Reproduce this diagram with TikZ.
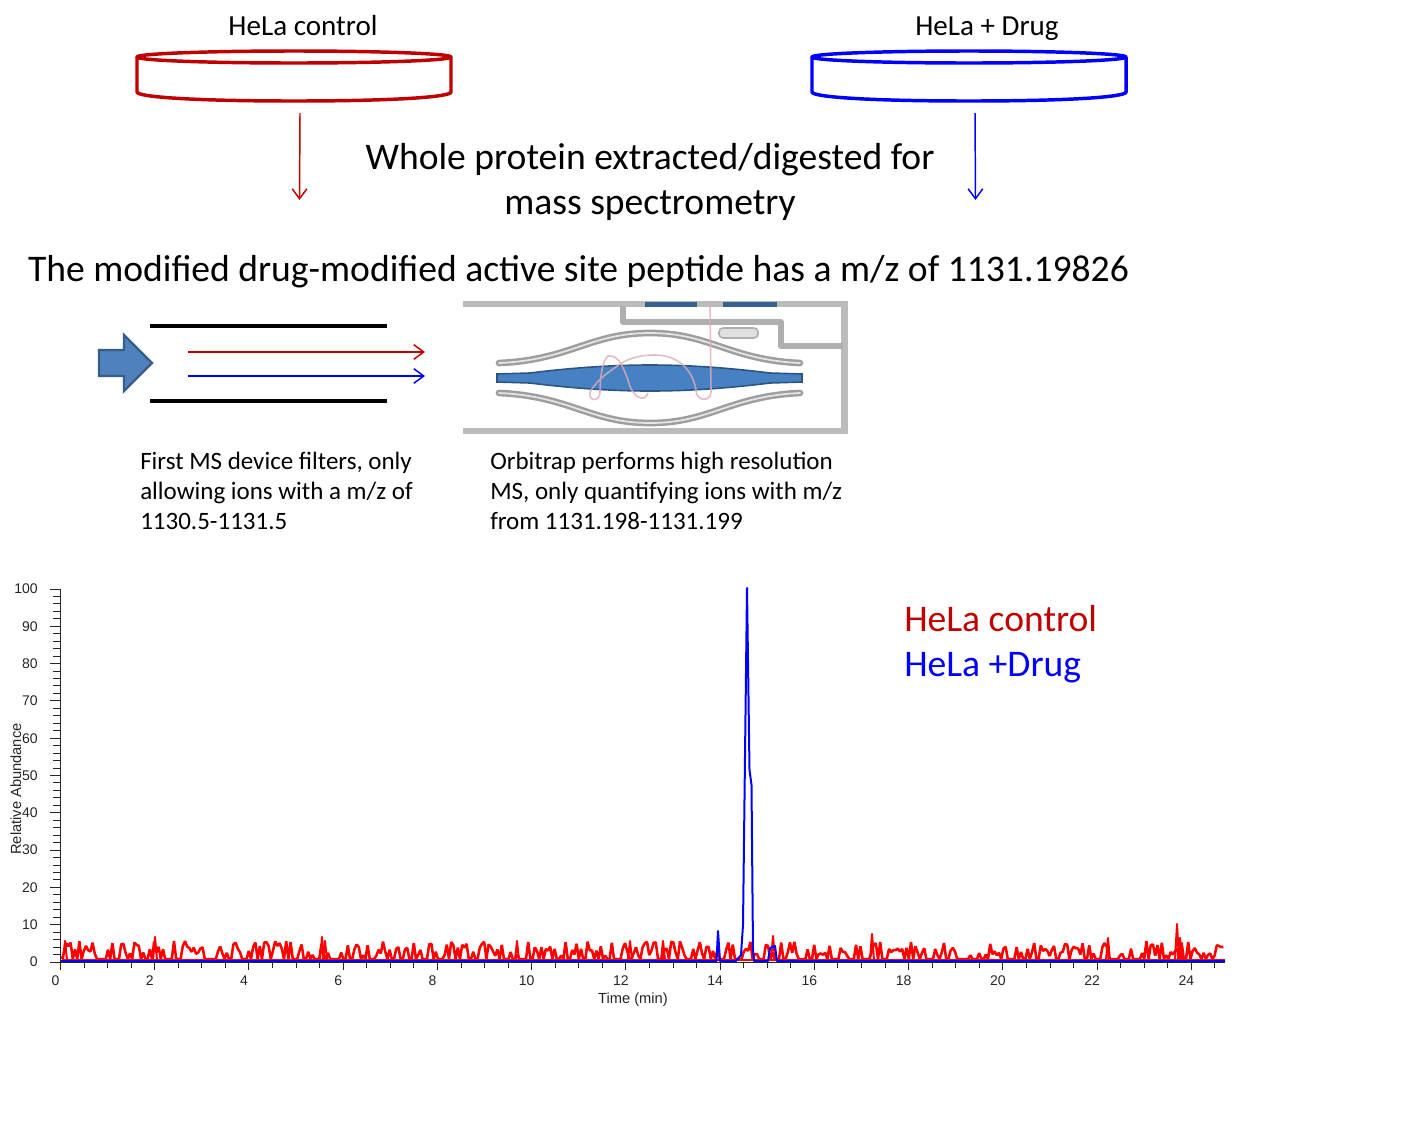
\documentclass[tikz,border=0pt]{standalone}
\usepackage{fontspec}
\setmainfont{Carlito}
\newfontfamily\chartfont{Liberation Sans}
\usetikzlibrary{arrows.meta}
\definecolor{dishred}{RGB}{192,0,0}
\definecolor{dishblue}{RGB}{0,0,255}
\definecolor{arrowfill}{RGB}{79,129,189}
\definecolor{arrowline}{RGB}{56,93,138}
\definecolor{trapblue}{RGB}{70,130,195}
\definecolor{trapline}{RGB}{45,85,130}
\definecolor{trapgrey}{RGB}{175,175,175}
\definecolor{trappink}{RGB}{225,170,180}
\tikzset{
	dishline/.style={line width=2.6pt,line join=round},
	thinarrow/.style={line width=1.1pt,-{Straight Barb[length=7.5pt,width=11pt,line width=1.1pt]}},
	plate/.style={line width=3pt,black},
	headtext/.style={font=\fontsize{28.2}{33.75}\selectfont,align=center},
	dishtext/.style={font=\fontsize{21.8}{26}\selectfont,anchor=base},
	smalltext/.style={font=\fontsize{18.75}{22.5}\selectfont,align=left,anchor=west,inner sep=0pt},
	legendtext/.style={font=\fontsize{28.2}{32}\selectfont,anchor=base west,inner sep=0pt},
	charttext/.style={font=\chartfont\fontsize{10.5}{12}\selectfont,text=black!85,inner sep=0pt},
	charttitle/.style={font=\chartfont\fontsize{11}{12}\selectfont,text=black!85,inner sep=0pt},
	electrode/.style={line width=5pt,trapgrey!90!black,line cap=round},
	electrodein/.style={line width=1.3pt,white!90!black,line cap=round},
	trapwall/.style={line width=4.2pt,trapgrey}
}
\begin{document}
\begin{tikzpicture}[x=0.75pt,y=-0.75pt]
	\path[fill=white,use as bounding box] (0,0) rectangle (1423,1129);

	% dishes
	\foreach \xc/\col in {294/dishred,969/dishblue}{
		\draw[dishline,color=\col] (\xc-157,57) -- (\xc-157,92) .. controls (\xc-157,97) and (\xc-100,101) .. (\xc,101) .. controls (\xc+100,101) and (\xc+157,97) .. (\xc+157,92) -- (\xc+157,57);
		\draw[dishline,color=\col] (\xc,57) ellipse[x radius=157,y radius=6];
	}
	\node[dishtext] (ctrllabel) at (303,35) {HeLa control};
	\node[dishtext] (druglabel) at (987,35) {HeLa + Drug};

	\coordinate (ctrltop) at (300,113);
	\coordinate (ctrlend) at (299.5,200);
	\coordinate (drugtop) at (975,113);
	\coordinate (drugend) at (975.5,200);
	\draw[thinarrow,dishred] (ctrltop) -- (ctrlend);
	\draw[thinarrow,dishblue] (drugtop) -- (drugend);

	\node[headtext] (extract) at (650,182) {Whole protein extracted/digested for\\mass spectrometry};
	\node[headtext] (peptide) at (578.5,272) {The modified drug-modified active site peptide has a m/z of 1131.19826};

	% first MS device
	\draw[draw=arrowline,fill=arrowfill,line width=1.8pt] (99,350) -- (124,350) -- (124,335) -- (152,363) -- (124,391) -- (124,376) -- (99,376) -- cycle;
	\coordinate (platea) at (150,326);
	\coordinate (plateb) at (387,326);
	\coordinate (platec) at (150,401);
	\coordinate (plated) at (387,401);
	\draw[plate] (platea) -- (plateb);
	\draw[plate] (platec) -- (plated);
	\coordinate (ionra) at (188,352);
	\coordinate (ionrb) at (425,352);
	\coordinate (ionba) at (188,376);
	\coordinate (ionbb) at (425,376);
	\draw[thinarrow,dishred] (ionra) -- (ionrb);
	\draw[thinarrow,dishblue] (ionba) -- (ionbb);

	% orbitrap
	\fill[trapgrey!85!white] (463,301) rectangle (848,307);
	\fill[trapgrey!85!white] (463,428) rectangle (848,434);
	\fill[trapgrey!85!white] (841,301) rectangle (848,434);
	\fill[trapblue!75!black] (645,302) rectangle (697,307);
	\fill[trapblue!75!black] (723,302) rectangle (777,307);
	\draw[trapwall,line join=round] (623,306) -- (623,322) -- (781,322) -- (781,346) -- (843,346);
	\draw[line width=1.2pt,trapgrey,fill=black!12,rounded corners=3pt] (719,328) rectangle (758,338);
	\foreach \sgn in {1,-1}{
		\draw[electrode] (499,{378-\sgn*15}) .. controls (570,{378-\sgn*18}) and (590,{378-\sgn*45}) .. (650,{378-\sgn*45}) .. controls (710,{378-\sgn*45}) and (730,{378-\sgn*18}) .. (800,{378-\sgn*15});
		\draw[electrodein] (499,{378-\sgn*15}) .. controls (570,{378-\sgn*18}) and (590,{378-\sgn*45}) .. (650,{378-\sgn*45}) .. controls (710,{378-\sgn*45}) and (730,{378-\sgn*18}) .. (800,{378-\sgn*15});
	}
	\draw[line width=1.2pt,trapline,fill=trapblue] (497,374) -- (530,373) .. controls (570,368) and (610,365) .. (650,365) .. controls (690,365) and (730,368) .. (770,373) -- (802,374) -- (802,382) -- (770,383) .. controls (730,388) and (690,391) .. (650,391) .. controls (610,391) and (570,388) .. (530,383) -- (497,382) -- cycle;
	\draw[line width=1.2pt,trappink,opacity=.8] (710,301) -- (711,392) .. controls (711,402) and (696,402) .. (696,390) .. controls (693,372) and (680,355) .. (655,355) .. controls (640,355) and (630,358) .. (620,364) .. controls (612,370) and (598,378) .. (590,392) .. controls (588,402) and (600,402) .. (600,392) .. controls (600,380) and (602,360) .. (608,356) .. controls (618,355) and (622,364) .. (628,380) .. controls (632,398) and (645,403) .. (648,393);

	% description
	\node[smalltext] (firsttext) at (140,491) {First MS device filters, only\\allowing ions with a m/z of\\1130.5-1131.5};
	\node[smalltext] (orbitext) at (490,491) {Orbitrap performs high resolution\\MS, only quantifying ions with m/z\\from 1131.198-1131.199};

	% chart traces
	\pgfmathsetseed{4711}
	\draw[line width=1.5pt,red] (62,959.5) -- (1225,959.5);
	\draw[line width=1.9pt,red,line join=bevel] (62,959) foreach \i in {64,66.2,...,1225}{ -- (\i,{959-(rnd<0.45?0:(3+15*rnd))}) };
	\foreach \px/\py in {65/941,155/937,322/937,325/941,517/941,630/941,663/941,773/936,872/934,1108/938,1177/924,1180/938}{
		\draw[line width=1.5pt,red,line join=round] (\px-2,960) -- (\px,\py) -- (\px+2,960);
	}
	\draw[line width=1.5pt,dishblue,line join=round] (60,961) -- (714,961) -- (716.5,961) -- (718,931) -- (720,961) -- (736,961) -- (741,955) -- (743,925) -- (747,588) -- (749.5,770) -- (751.5,785) -- (753,950) -- (754,961) -- (768,961) -- (770,948) -- (775,946) -- (777,961) -- (1225,961);

	% chart axes
	\coordinate (ytop) at (60.5,589);
	\coordinate (origin) at (60.5,962);
	\coordinate (xend) at (1225,962);
	\draw[line width=.75pt,black!85] (ytop) -- (origin) -- (xend);
	\foreach \v in {0,2,...,100}{
		\draw[line width=.75pt,black!85] (53,{962-3.73*\v}) -- (60.5,{962-3.73*\v});
	}
	\foreach \v in {0,10,...,100}{
		\draw[line width=.75pt,black!85] (50,{962-3.73*\v}) -- (60.5,{962-3.73*\v});
		\node[charttext,anchor=east] (ylab\v) at (38,{962-3.73*\v}) {\v};
	}
	\foreach \m in {0,0.5,...,24.5}{
		\draw[line width=.75pt,black!85] ({60.5+47.12*\m},962) -- ({60.5+47.12*\m},968);
	}
	\foreach \m in {0,2,...,24}{
		\draw[line width=.75pt,black!85] ({60.5+47.12*\m},962) -- ({60.5+47.12*\m},970);
		\node[charttext] (xlab\m) at ({55.5+47.12*\m},981) {\m};
	}
	\node[charttitle] (xtitle) at (633,1000) {Time (min)};
	\node[charttitle,rotate=90] (ytitle) at (16,789) {Relative Abundance};

	\node[legendtext,text=dishred] (legctrl) at (904,631) {HeLa control};
	\node[legendtext,text=dishblue] (legdrug) at (904,676) {HeLa +Drug};
\end{tikzpicture}
\end{document}
